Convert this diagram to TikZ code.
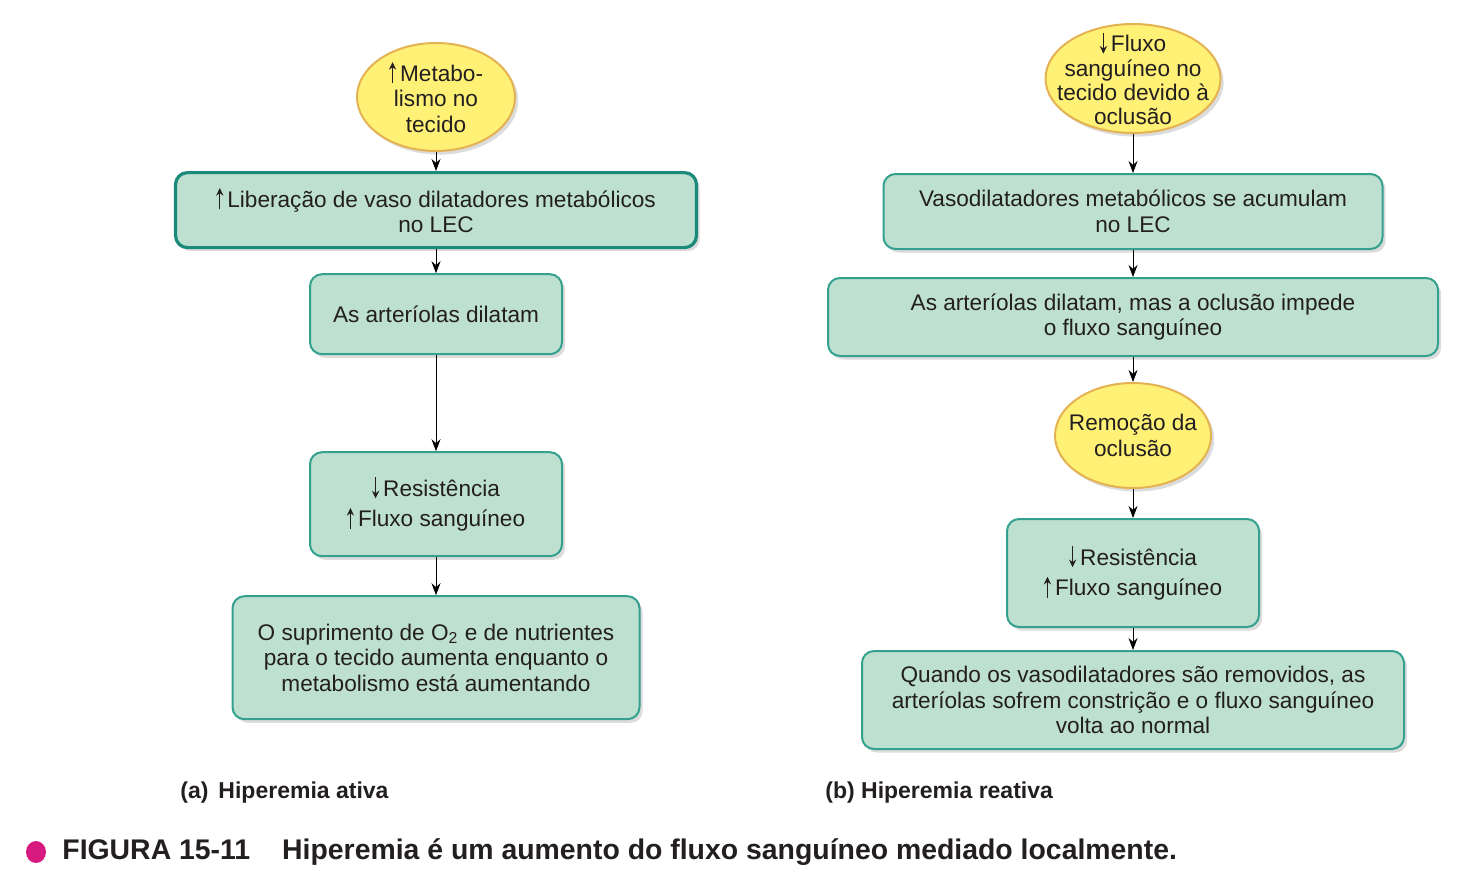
\documentclass[tikz,border=0pt]{standalone}
\usepackage{fontspec}
\setmainfont{Liberation Sans}
\usepackage{tikz}
\usetikzlibrary{shapes,arrows.meta,positioning,shadows}
\definecolor{boxfill}{RGB}{190,224,208}
\definecolor{boxline}{RGB}{52,160,143}
\definecolor{boxdark}{RGB}{28,138,122}
\definecolor{bubfill}{RGB}{255,241,118}
\definecolor{bubline}{RGB}{228,178,82}
\definecolor{figpink}{RGB}{214,26,128}
\definecolor{ink}{RGB}{35,31,32}
\newcommand{\upa}{\tikz[baseline=0pt,x=1pt,y=1pt]\draw[-{Stealth[length=3.8pt,width=3.6pt]},line width=0.65pt,ink](0,-1)--(0,9.5);\hspace{2pt}}
\newcommand{\dna}{\tikz[baseline=0pt,x=1pt,y=1pt]\draw[-{Stealth[length=3.8pt,width=3.6pt]},line width=0.65pt,ink](0,9.5)--(0,-1);\hspace{2pt}}
\tikzset{
    >={Stealth[length=6pt,width=4.5pt]},auto,semithick,
    shade/.style={drop shadow={opacity=0.28,shadow xshift=1.6pt,shadow yshift=-1.8pt}},
    box/.style={rectangle,rounded corners=6pt,draw=boxline,line width=1pt,fill=boxfill,align=center,inner sep=2pt,text=ink,shade},
    bubble/.style={ellipse,draw=bubline,line width=1pt,fill=bubfill,align=center,inner sep=-12pt,text=ink,shade},
    panel/.style={font=\fontsize{11.5}{13}\selectfont\bfseries,text=ink,anchor=west,inner sep=0pt}
}

\begin{document}
\begin{tikzpicture}[x=0.5pt,y=-0.5pt,font=\fontsize{11.3}{12.8}\selectfont]
\useasboundingbox (0,0) rectangle (1459,884);
% (a) active hyperemia
\node[bubble, minimum width=79pt, minimum height=54pt](1) at (436,97){\upa Metabo-\\lismo no\\tecido};
\node[box, line width=1.6pt, draw=boxdark, minimum width=260.5pt, minimum height=37.5pt](2)[below=9.5pt of 1]{\upa Liberação de vaso dilatadores metabólicos\\no LEC};
\node[box, minimum width=126pt, minimum height=40pt](3)[below=12pt of 2]{As arteríolas dilatam};
\node[box, minimum width=126pt, minimum height=52pt](4)[below=48pt of 3]{\dna Resistência\\[2.5pt]\upa Fluxo sanguíneo};
\node[box, minimum width=203.5pt, minimum height=61.5pt](5)[below=19pt of 4]{O suprimento de O\textsubscript{2} e de nutrientes\\para o tecido aumenta enquanto o\\metabolismo está aumentando};
\path[->](1)edge(2);
\path[->](2)edge(3);
\path[->](3)edge(4);
\path[->](4)edge(5);
% (b) reactive hyperemia
\node[bubble, font=\fontsize{11.3}{12.2}\selectfont, minimum width=87.5pt, minimum height=54.5pt](6) at (1133,78.5){\dna Fluxo\\sanguíneo no\\tecido devido à\\oclusão};
\node[box, minimum width=249.5pt, minimum height=37.5pt](7)[below=19.5pt of 6]{Vasodilatadores metabólicos se acumulam\\no LEC};
\node[box, minimum width=305pt, minimum height=39pt](8)[below=13.5pt of 7]{As arteríolas dilatam, mas a oclusão impede\\o fluxo sanguíneo};
\node[bubble, minimum width=78pt, minimum height=52.5pt](9)[below=12.5pt of 8]{Remoção da\\oclusão};
\node[box, minimum width=126pt, minimum height=54pt](10)[below=14.5pt of 9]{\dna Resistência\\[2.5pt]\upa Fluxo sanguíneo};
\node[box, minimum width=271pt, minimum height=49pt](11)[below=11pt of 10]{Quando os vasodilatadores são removidos, as\\arteríolas sofrem constrição e o fluxo sanguíneo\\volta ao normal};
\path[->](6)edge(7);
\path[->](7)edge(8);
\path[->](8)edge(9);
\path[->](9)edge(10);
\path[->](10)edge(11);
% labels and caption
\node[panel](la) at (180,793){(a)\hspace{5pt}Hiperemia ativa};
\node[panel](lb) at (825,793){(b) Hiperemia reativa};
\fill[figpink](36,852) ellipse [x radius=10, y radius=11];
\node[panel, font=\fontsize{14.2}{16}\selectfont\bfseries](cap) at (62,852){FIGURA 15-11\hspace{16pt}Hiperemia é um aumento do fluxo sanguíneo mediado localmente.};
\end{tikzpicture}
\end{document}
